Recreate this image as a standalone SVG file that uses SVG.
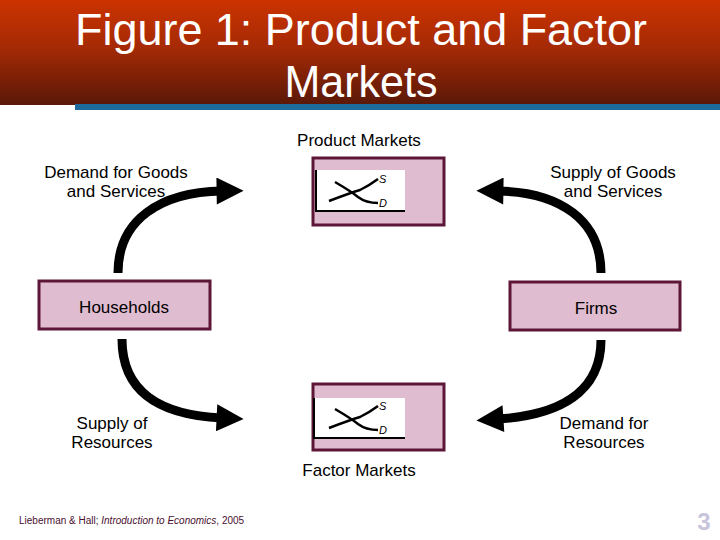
<svg xmlns="http://www.w3.org/2000/svg" width="720" height="540" viewBox="0 0 720 540">
<defs>
<linearGradient id="tg" x1="0" y1="0" x2="0" y2="1"><stop offset="0" stop-color="#cc3300"/><stop offset="0.45" stop-color="#a52a05"/><stop offset="1" stop-color="#5a1808"/></linearGradient>
<marker id="ah" viewBox="0 0 10 10" refX="2" refY="5" markerWidth="3.2" markerHeight="3" orient="auto" markerUnits="strokeWidth"><path d="M0,0 L10,5 L0,10 z" fill="#000"/></marker>
<style>
.box{fill:#e0bcd0;stroke:#5e1638;stroke-width:3}
.t{font-family:"Liberation Sans",Arial,sans-serif;font-size:17px;fill:#000;text-anchor:middle}
.c{fill:none;stroke:#000;stroke-width:9}
.sd{font-family:"Liberation Sans",Arial,sans-serif;font-size:11px;font-style:italic}
.crv{fill:none;stroke:#000;stroke-width:2.5}
</style>
</defs>
<rect width="720" height="540" fill="#fff"/>
<rect x="0" y="0" width="720" height="105" fill="url(#tg)"/>
<rect x="75" y="104" width="645" height="6" fill="#1d6b9b"/>
<text x="361" y="45" font-family="Liberation Sans,Arial,sans-serif" font-size="44" fill="#fff" text-anchor="middle" textLength="572" lengthAdjust="spacingAndGlyphs">Figure 1:  Product and Factor</text>
<text x="361" y="97" font-family="Liberation Sans,Arial,sans-serif" font-size="44" fill="#fff" text-anchor="middle" textLength="153" lengthAdjust="spacingAndGlyphs">Markets</text>

<g id="product-market">
<rect class="box" x="313" y="158" width="131" height="67"/>
<rect x="315" y="170" width="90" height="42" fill="#fff"/>
<path d="M316,170 V211 H405" fill="none" stroke="#000" stroke-width="2"/>
<path class="crv" d="M329,201 Q350,193 360,190 Q370,185 378,179"/>
<path class="crv" d="M335,182 Q352,192 358,197 Q366,203 378,203"/>
<text class="sd" x="379" y="183">S</text><text class="sd" x="379" y="207">D</text>
<text class="t" x="359" y="146">Product Markets</text>
</g>
<g id="factor-market">
<rect class="box" x="313" y="384" width="131" height="66"/>
<rect x="313" y="398" width="92" height="41" fill="#fff"/>
<path d="M314,398 V438 H405" fill="none" stroke="#000" stroke-width="2"/>
<path class="crv" d="M329,428 Q350,420 360,417 Q370,412 378,406"/>
<path class="crv" d="M335,409 Q352,419 358,424 Q366,430 378,430"/>
<text class="sd" x="379" y="410">S</text><text class="sd" x="379" y="434">D</text>
<text class="t" x="359" y="476">Factor Markets</text>
</g>
<g id="households">
<rect class="box" x="39" y="281" width="171" height="48"/>
<text class="t" x="124" y="313">Households</text>
</g>
<g id="firms">
<rect class="box" x="510" y="282" width="170" height="48"/>
<text class="t" x="596" y="314">Firms</text>
</g>
<g id="connectors">
<path class="c" marker-end="url(#ah)" d="M118,273 C118,220 160,192 222,191"/>
<path class="c" marker-end="url(#ah)" d="M122,339 C122,392 160,415 222,418"/>
<path class="c" marker-end="url(#ah)" d="M601,273 C601,220 560,192 498,191"/>
<path class="c" marker-end="url(#ah)" d="M601,340 C601,392 560,415 498,419"/>
</g>
<g id="labels">
<text class="t" x="116" y="178">Demand for Goods</text>
<text class="t" x="116" y="197">and Services</text>
<text class="t" x="613" y="178">Supply of Goods</text>
<text class="t" x="613" y="197">and Services</text>
<text class="t" x="112" y="429">Supply of</text>
<text class="t" x="112" y="448">Resources</text>
<text class="t" x="604" y="429">Demand for</text>
<text class="t" x="604" y="448">Resources</text>
</g>
<text x="19" y="524" font-family="Liberation Sans,Arial,sans-serif" font-size="10" fill="#4a0f30">Lieberman &amp; Hall; <tspan font-style="italic">Introduction to Economics</tspan>, 2005</text>
<text x="704" y="530" font-family="Liberation Sans,Arial,sans-serif" font-size="24" font-weight="bold" fill="#c8c4dc" text-anchor="middle">3</text>
</svg>
